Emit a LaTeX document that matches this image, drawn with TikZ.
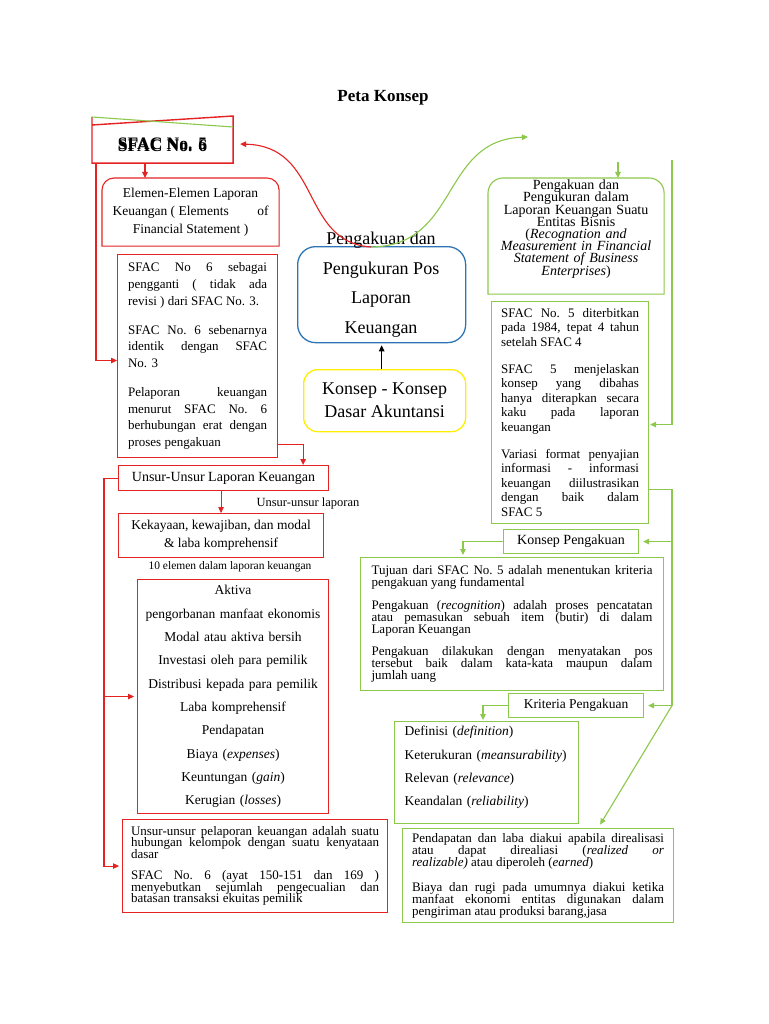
\documentclass[tikz,border=0pt]{standalone}
\usepackage{fontspec}
\setmainfont{Liberation Serif}
\usetikzlibrary{arrows.meta}
\definecolor{rd}{RGB}{228,34,34}
\definecolor{gr}{RGB}{140,200,75}
\definecolor{bl}{RGB}{46,117,182}
\definecolor{yl}{RGB}{255,238,0}
\newcommand{\fs}[2]{\fontsize{#1}{#2}\selectfont\lineskiplimit=-50pt\relax}
\newcommand{\jl}[1]{\makebox[\hsize][s]{\spaceskip=.25em plus 1fil\xspaceskip=.25em plus 1fil#1}\newline}
\tikzset{
  >={Triangle[length=6pt,width=5.5pt]},
  cbox/.style={anchor=north west, inner ysep=0pt, line width=1.1pt},
  redbox/.style={cbox, draw=rd},
  greenbox/.style={cbox, draw=gr},
  rl/.style={draw=rd, line width=1.1pt},
  gl/.style={draw=gr, line width=1.1pt},
}

\begin{document}
\begin{tikzpicture}[x=1pt, y=-1pt]
  \fill[white] (0,0) rectangle (768,1024);
  \node[font=\bfseries\fs{17}{20}] (title) at (383,98) {Peta Konsep};

  \node[cbox, minimum width=140pt, minimum height=37pt, font=\bfseries\fs{17.5}{20}] (sfac) at (92,125) {SFAC No. 5};
  \node[font=\bfseries\fs{17.5}{20}] (sfacb) at ([yshift=-1.5pt]sfac.center) {SFAC No. 6};
  \node[cbox, minimum width=176pt, minimum height=67pt, align=center, font=\fs{13.5}{18}] (el) at (102,178)
    {Elemen-Elemen Laporan\\ \makebox[156pt][s]{Keuangan ( Elements\hfill of}\\ Financial Statement )};
  \node[redbox, text width=139pt, inner xsep=10.5pt, minimum height=203pt, align=justify, font=\fs{13}{16.7}] (s6) at (117,254)
    {\jl{SFAC No 6 sebagai}\jl{pengganti ( tidak ada}revisi ) dari SFAC No. 3.\par\vspace{12.3pt}
     \jl{SFAC No. 6 sebenarnya}\jl{identik dengan SFAC}No. 3\par\vspace{12.3pt}
     \jl{Pelaporan keuangan}\jl{menurut SFAC No. 6}\jl{berhubungan erat dengan}proses pengakuan};
  \node[redbox, minimum width=210pt, minimum height=25pt, font=\fs{14}{16}] (un) at (118,465) {Unsur-Unsur Laporan Keuangan};
  \node[font=\fs{12.5}{14}] (lab1) at (308,503) {Unsur-unsur laporan};
  \node[redbox, minimum width=205pt, minimum height=44pt, align=center, font=\fs{13.5}{18}] (kek) at (118,513)
    {Kekayaan, kewajiban, dan modal\\ \& laba komprehensif};
  \node[font=\fs{11.5}{13}] (lab2) at (230,567) {10 elemen dalam laporan keuangan};
  \node[redbox, text width=180pt, inner xsep=5.5pt, minimum height=234pt, align=center, font=\fs{13.5}{23.3}] (el10) at (137,579)
    {Aktiva\\ pengorbanan manfaat ekonomis\\ Modal atau aktiva bersih\\ Investasi oleh para pemilik\\
     Distribusi kepada para pemilik\\ Laba komprehensif\\ Pendapatan\\ Biaya (\textit{expenses})\\
     Keuntungan (\textit{gain})\\ Kerugian (\textit{losses})};
  \node[redbox, text width=248pt, inner xsep=8.5pt, minimum height=93pt, align=justify, font=\fs{13}{11.5}] (bl) at (122,819)
    {\jl{Unsur-unsur pelaporan keuangan adalah suatu}\jl{hubungan kelompok dengan suatu kenyataan}dasar\par\vspace{10pt}
     \jl{SFAC No. 6 (ayat 150-151 dan 169 )}\jl{menyebutkan sejumlah pengecualian dan}batasan transaksi ekuitas pemilik};

  \node[cbox, draw=bl, rounded corners=18pt, line width=1.3pt, minimum width=168pt, minimum height=96pt] (pk) at (297,246) {};
  \node[align=center, font=\fs{18}{29.5}] (pkt) at (381,284.5)
    {Pengakuan dan\\ Pengukuran Pos\\ Laporan\\ Keuangan};
  \node[cbox, draw=yl, rounded corners=14pt, line width=1.3pt, minimum width=162pt, minimum height=62pt,
        align=center, font=\fs{18}{23}] (kd) at (303,369) {Konsep - Konsep\\ Dasar Akuntansi};

  \node[cbox, minimum width=175pt, minimum height=115pt, text width=165pt, inner xsep=5pt, align=center, font=\fs{14}{12.2}] (rp) at (488,178)
    {Pengakuan dan\\ Pengukuran dalam\\ Laporan Keuangan Suatu\\ Entitas Bisnis\\ (\textit{Recognation and}\\
     \textit{Measurement in Financial}\\ \textit{Statement of Business}\\ \textit{Enterprises})\par\kern14pt};
  \node[greenbox, text width=138pt, inner xsep=9.5pt, minimum height=222pt, align=justify, font=\fs{13}{14.5}] (s5) at (491,301)
    {\jl{SFAC No. 5 diterbitkan}\jl{pada 1984, tepat 4 tahun}setelah SFAC 4\par\vspace{12.5pt}
     \jl{SFAC 5 menjelaskan}\jl{konsep yang dibahas}\jl{hanya diterapkan secara}\jl{kaku pada laporan}keuangan\par\vspace{12.5pt}
     \jl{Variasi format penyajian}\jl{informasi - informasi}\jl{keuangan diilustrasikan}\jl{dengan baik dalam}SFAC 5};
  \node[greenbox, minimum width=135pt, minimum height=24pt, font=\fs{14}{16}] (kp) at (503,529) {Konsep Pengakuan};
  \node[greenbox, text width=281pt, inner xsep=11pt, minimum height=133pt, align=justify, font=\fs{13}{11.8}] (tj) at (360,557)
    {\jl{Tujuan dari SFAC No. 5 adalah menentukan kriteria}pengakuan yang fundamental\par\vspace{11pt}
     \jl{Pengakuan (\textit{recognition}) adalah proses pencatatan}\jl{atau pemasukan sebuah item (butir) di dalam}Laporan Keuangan\par\vspace{11pt}
     \jl{Pengakuan dilakukan dengan menyatakan pos}\jl{tersebut baik dalam kata-kata maupun dalam}jumlah uang};
  \node[greenbox, minimum width=135pt, minimum height=24pt, font=\fs{13.5}{16}] (kr) at (508,693) {Kriteria Pengakuan};
  \node[greenbox, text width=164pt, inner xsep=10pt, minimum height=102pt, align=left, font=\fs{13.5}{23.3}] (df) at (394,721)
    {Definisi (\textit{definition})\\ Keterukuran (\textit{meansurability})\\ Relevan (\textit{relevance})\\
     Keandalan (\textit{reliability})\par\kern10pt};
  \node[greenbox, text width=252pt, inner xsep=9.5pt, minimum height=94pt, align=justify, font=\fs{13}{12}] (br) at (402,828)
    {\jl{Pendapatan dan laba diakui apabila direalisasi}\jl{atau dapat direaliasi (\textit{realized or}}\textit{realizable)} atau diperoleh (\textit{earned})\par\vspace{13pt}
     \jl{Biaya dan rugi pada umumnya diakui ketika}\jl{manfaat ekonomi entitas digunakan dalam}pengiriman atau produksi barang,jasa};

  \draw[rl, line width=1.4pt] ([yshift=8pt]sfac.north west) -- (sfac.south west) -- (sfac.south east)
    -- ([yshift=9pt]sfac.north east) -- (sfac.north west);
  \draw[gl] ([yshift=8pt]sfac.north west) -- ([yshift=-2pt]sfac.north east);
  \draw[rl] (el.south west) [rounded corners=12pt] -- (el.north west) -- (el.north east) [sharp corners] -- (el.south east) -- cycle;
  \draw[gl] (rp.south west) [rounded corners=15pt] -- (rp.north west) -- (rp.north east) [sharp corners] -- (rp.south east) -- cycle;

  \coordinate (split) at (371,247);
  \coordinate (gtip)  at (528,137);
  \coordinate (gtop)  at (618,162);
  \coordinate (rtop)  at (672,160);
  \coordinate (a1) at ([xshift=53pt]sfac.south west);
  \coordinate (a2) at ([xshift=4pt]sfac.south west);
  \coordinate (a3) at ([yshift=14pt]s6.south east);
  \coordinate (a4) at ([xshift=-26pt]un.north east);
  \coordinate (lt) at ([xshift=-14pt]un.west);
  \coordinate (s5o) at ([yshift=-77pt]s5.east);
  \coordinate (kpd) at ([xshift=-40pt]kp.west);
  \coordinate (krd) at ([xshift=-25pt]kr.west);
  \coordinate (brin) at ([xshift=60pt]br.north);

  \draw[rl, ->] (split) .. controls (300,242) and (322,146) .. ([xshift=7pt]sfac.east);
  \draw[rl, ->] (a1) -- (a1 |- el.north);
  \draw[rl, ->] (a2) |- ([yshift=-4.5pt]s6.west);
  \draw[rl, ->] (a3) -| (a4);
  \draw[rl, ->] (un.south -| kek.north) -- (kek.north);
  \draw[rl, ->] (un.west) -- (lt) |- ([xshift=-3pt]bl.west);
  \draw[rl, ->] (lt |- el10.west) -- ([xshift=-3pt]el10.west);

  \draw[->, line width=1pt, shorten >=2pt] (kd.north -| pk.south) -- (pk.south);

  \draw[gl, ->] (split) .. controls (460,246) and (440,140) .. (gtip);
  \draw[gl, ->] (gtop) -- (gtop |- rp.north);
  \draw[gl, ->, shorten >=1pt] (rtop) |- ([yshift=-12pt]s5.east);
  \draw[gl] (s5o) -| (rtop |- kr.east);
  \draw[gl, ->, shorten >=4pt] (rtop |- kp.east) -- (kp.east);
  \draw[gl, ->, shorten >=4pt] (rtop |- kr.east) -- (kr.east);
  \draw[gl, ->, shorten >=4pt] (rtop |- kr.east) -- (brin);
  \draw[gl, ->, shorten >=2pt] (kp.west) -- (kpd) -- (kpd |- tj.north);
  \draw[gl, ->, shorten >=1pt] (kr.west) -- (krd) -- (krd |- df.north);
\end{tikzpicture}
\end{document}
